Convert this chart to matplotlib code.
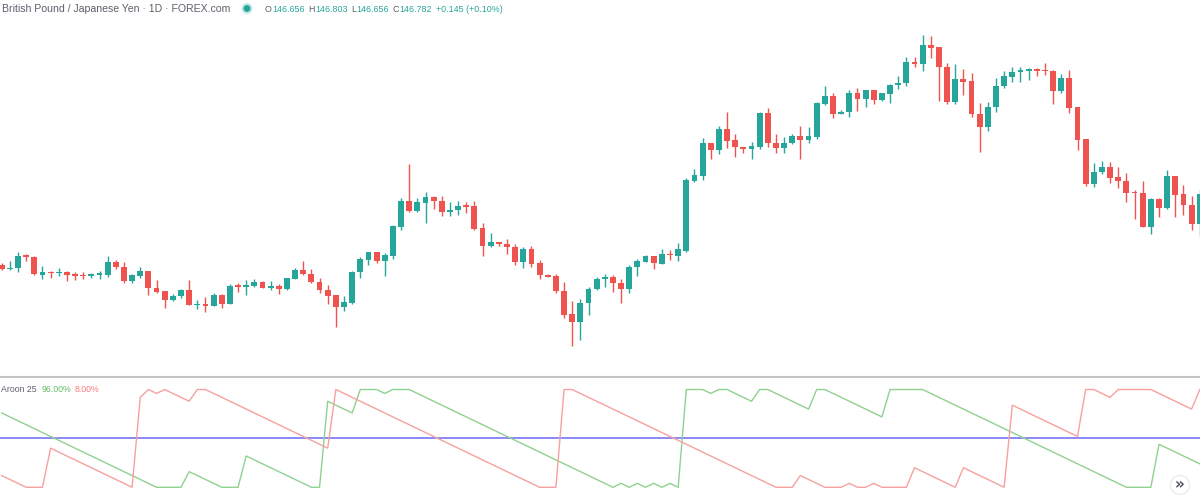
import matplotlib
import numpy as np

matplotlib.use("Agg")
import matplotlib.pyplot as plt
from matplotlib.patches import Circle

opens = [
    136.75, 136.55, 136.59, 137.25, 137.17, 136.27, 136.40, 136.35, 136.40, 136.29,
    136.25, 136.19, 136.24, 136.27, 136.89, 136.67, 135.95, 136.22, 136.47, 135.62,
    135.47, 134.99, 135.20, 135.50, 134.75, 134.82, 134.72, 135.25, 134.82, 135.73,
    135.67, 135.70, 135.92, 135.62, 135.72, 135.54, 136.07, 136.50, 136.32, 135.90,
    135.50, 135.25, 134.67, 134.84, 136.40, 137.00, 137.39, 136.95, 137.22, 138.64,
    139.97, 139.45, 139.87, 140.17, 139.95, 139.42, 139.49, 139.74, 139.70, 138.59,
    137.70, 137.92, 137.79, 137.67, 136.89, 137.54, 136.84, 136.25, 136.20, 135.47,
    134.30, 133.90, 134.87, 135.55, 136.04, 136.17, 135.84, 135.54, 136.65, 136.92,
    137.20, 136.82, 137.32, 137.22, 137.47, 140.97, 141.22, 142.84, 142.50, 143.54,
    143.00, 142.67, 142.57, 142.67, 144.34, 142.87, 142.59, 142.84, 143.20, 143.00,
    143.14, 144.80, 145.20, 144.30, 144.39, 145.37, 145.04, 145.50, 145.00, 145.32,
    145.74, 145.84, 146.92, 146.79, 147.75, 147.64, 146.67, 144.92, 146.04, 145.95,
    144.30, 143.67, 144.67, 145.70, 146.17, 146.39, 146.47, 146.54, 146.47, 146.47,
    145.47, 146.12, 144.64, 143.04, 140.79, 141.39, 141.67, 141.14, 140.97, 140.42,
    140.34, 138.67, 140.04, 139.62, 141.22, 140.29, 139.75, 138.80,
]
highs = [
    136.85, 136.95, 137.42, 137.30, 137.18, 136.70, 136.47, 136.59, 136.47, 136.39,
    136.39, 136.34, 136.47, 137.20, 137.00, 136.89, 136.30, 136.65, 136.47, 136.00,
    135.47, 135.30, 135.57, 136.00, 135.00, 135.17, 135.34, 135.30, 135.80, 135.87,
    136.00, 136.04, 135.97, 135.95, 135.79, 136.12, 136.59, 136.95, 136.54, 136.12,
    135.75, 135.25, 135.22, 136.47, 137.17, 137.42, 137.42, 137.34, 138.75, 140.12,
    141.80, 140.12, 140.39, 140.20, 140.20, 139.92, 139.97, 139.92, 139.95, 138.87,
    138.37, 137.92, 138.04, 137.80, 137.67, 137.70, 137.00, 136.28, 136.29, 135.92,
    134.95, 135.04, 135.67, 136.14, 136.30, 136.25, 136.04, 136.75, 137.04, 137.24,
    137.20, 137.54, 137.50, 137.84, 141.09, 141.54, 143.12, 142.84, 143.72, 144.39,
    143.30, 142.67, 142.92, 144.39, 144.62, 143.29, 143.17, 143.30, 143.70, 143.67,
    144.89, 145.72, 145.37, 144.50, 145.48, 145.62, 145.50, 145.50, 145.37, 145.79,
    146.22, 147.14, 147.14, 148.25, 148.20, 147.64, 146.87, 146.80, 146.54, 146.34,
    144.87, 144.92, 146.09, 146.45, 146.67, 146.64, 146.59, 146.59, 146.84, 146.50,
    146.30, 146.50, 144.64, 143.04, 141.84, 141.95, 141.92, 141.64, 141.34, 140.50,
    140.95, 140.09, 140.09, 141.50, 141.22, 140.75, 140.20, 140.50,
]
lows = [
    136.50, 136.50, 136.42, 136.95, 136.25, 136.04, 136.12, 136.22, 135.97, 136.00,
    136.04, 136.12, 136.07, 136.17, 136.55, 135.84, 135.84, 136.09, 135.25, 135.34,
    134.62, 134.95, 135.12, 134.75, 134.55, 134.42, 134.72, 134.62, 134.79, 135.42,
    135.25, 135.64, 135.59, 135.50, 135.30, 135.50, 136.04, 136.25, 135.84, 135.37,
    134.79, 133.67, 134.47, 134.80, 136.09, 136.75, 136.84, 136.22, 137.04, 138.50,
    139.40, 139.42, 138.84, 139.55, 139.22, 139.22, 139.25, 139.37, 138.50, 137.20,
    137.64, 137.70, 137.29, 136.75, 136.59, 136.67, 136.05, 136.13, 135.34, 134.09,
    132.70, 133.00, 134.25, 135.50, 135.67, 135.42, 134.87, 135.34, 136.20, 136.89,
    136.54, 136.79, 137.00, 136.97, 137.42, 140.92, 141.00, 142.04, 142.30, 142.59,
    142.14, 142.34, 142.04, 142.54, 142.67, 142.34, 142.37, 142.80, 142.04, 142.87,
    143.05, 144.75, 144.09, 144.28, 144.14, 144.47, 144.67, 144.80, 144.95, 144.87,
    145.54, 145.70, 146.67, 146.45, 147.09, 144.97, 144.80, 144.80, 145.25, 144.14,
    142.42, 143.47, 144.42, 145.59, 145.89, 145.89, 146.00, 146.22, 146.25, 144.79,
    145.34, 144.34, 142.50, 140.70, 140.67, 141.29, 140.87, 140.59, 139.92, 139.04,
    138.67, 138.30, 139.14, 139.54, 139.17, 139.25, 138.50, 138.20,
]
closes = [
    136.55, 136.59, 137.22, 137.15, 136.29, 136.40, 136.35, 136.40, 136.24, 136.22,
    136.19, 136.29, 136.34, 136.89, 136.67, 135.95, 136.25, 136.47, 135.59, 135.42,
    134.99, 135.22, 135.50, 134.75, 134.82, 134.72, 135.25, 134.82, 135.70, 135.67,
    135.75, 135.92, 135.62, 135.72, 135.55, 136.09, 136.50, 136.30, 135.89, 135.49,
    135.22, 134.67, 134.89, 136.42, 137.04, 137.39, 136.95, 137.25, 138.70, 139.97,
    139.44, 139.90, 140.17, 139.95, 139.42, 139.52, 139.72, 139.65, 138.55, 137.70,
    137.92, 137.79, 137.64, 136.89, 137.54, 136.82, 136.24, 136.15, 135.45, 134.27,
    133.90, 134.87, 135.57, 136.05, 136.17, 135.84, 135.54, 136.67, 136.95, 137.20,
    136.84, 137.32, 137.24, 137.54, 141.00, 141.25, 142.84, 142.50, 143.54, 142.97,
    142.64, 142.57, 142.69, 144.34, 142.84, 142.59, 142.87, 143.20, 143.00, 143.20,
    144.87, 145.20, 144.30, 144.42, 145.37, 145.04, 145.50, 145.00, 145.34, 145.75,
    145.85, 146.92, 146.79, 147.75, 147.62, 146.64, 144.92, 146.04, 145.92, 144.29,
    143.67, 144.67, 145.70, 146.20, 146.39, 146.50, 146.54, 146.45, 146.44, 145.47,
    146.12, 144.62, 143.00, 140.79, 141.42, 141.67, 141.12, 140.95, 140.37, 140.34,
    138.67, 140.04, 139.62, 141.22, 140.25, 139.75, 138.80, 140.29,
]

# Aroon 25 readings, percent per bar
aroon_up = [
    76, 72, 68, 64, 60, 56, 52, 48, 44, 40, 36, 32, 28, 24, 20, 16, 12, 8, 4, 0,
    0, 0, 0, 16, 12, 8, 4, 0, 0, 0, 32, 28, 24, 20, 16, 12, 8, 4, 0, 0,
    88, 84, 80, 76, 100, 100, 100, 96, 100, 100, 100,
    96, 92, 88, 84, 80, 76, 72, 68, 64, 60, 56, 52, 48, 44, 40, 36, 32, 28, 24, 20,
    16, 12, 8, 4, 0, 4, 0, 4, 0, 4, 0, 4, 0,
    100, 100, 100, 96, 100, 100, 96, 92, 88, 100, 100, 96, 92, 88, 84, 80, 100, 100,
    96, 92, 88, 84, 80, 76, 72, 100, 100, 100, 100, 100,
    96, 92, 88, 84, 80, 76, 72, 68, 64, 60, 56, 52, 48, 44, 40, 36, 32, 28, 24, 20,
    16, 12, 8, 4, 0, 0, 0, 0, 44, 40, 36, 32, 28, 24,
]
aroon_down = [
    12, 8, 4, 0, 0, 0, 40, 36, 32, 28, 24, 20, 16, 12, 8, 4, 0, 92, 100, 96,
    100, 96, 92, 88, 100, 100, 96, 92, 88, 84, 80, 76, 72, 68, 64, 60, 56, 52, 48, 44,
    40, 100, 96, 92, 88, 84, 80, 76, 72, 68, 64, 60, 56, 52, 48, 44, 40, 36, 32, 28,
    24, 20, 16, 12, 8, 4, 0, 0, 0, 100, 100,
    96, 92, 88, 84, 80, 76, 72, 68, 64, 60, 56, 52, 48, 44, 40, 36, 32, 28, 24, 20,
    16, 12, 8, 4, 0, 0, 0, 12, 8, 4, 0, 0, 0, 4, 0, 0, 4, 0, 0, 0, 0,
    20, 16, 12, 8, 4, 0, 20, 16, 12, 8, 4, 0,
    84, 80, 76, 72, 68, 64, 60, 56, 52, 100, 100, 96, 92, 100, 100, 100, 100, 100,
    96, 92, 88, 84, 80, 100,
]

UP = "#26a69a"
DOWN = "#ef5350"
W, H = 1200, 495
STEP = 8.15  # pixels per bar
X0 = 1.7     # pixel of first bar
FONT = "Liberation Sans"
GRAY = "#5d606b"


def fx(px):
    return px / W


def fy(py):
    return 1 - py / H


def text_row(fig, items, x, y, size):
    """Lay out (text, colour, gap) pieces one after another from pixel x."""
    renderer = fig.canvas.get_renderer()
    for label, color, gap in items:
        t = fig.text(fx(x), fy(y), label, fontsize=size, color=color,
                     family=FONT, va="center")
        x = t.get_window_extent(renderer).x1 + gap


fig = plt.figure(figsize=(12, 4.95), dpi=100)
ax = fig.add_axes([0, fy(376), 1, 376 / H])
ax_ar = fig.add_axes([0, 0, 1, 118 / H])

xlim = (-X0 / STEP, (W - X0) / STEP)

# candles
o = np.array(opens)
c = np.array(closes)
x = np.arange(len(o))
colors = np.where(c >= o, UP, DOWN)
ax.vlines(x, lows, highs, colors=colors, linewidth=1, zorder=1)
body = np.maximum(np.abs(c - o), 0.05)
ax.bar(x, body, bottom=np.minimum(o, c), width=0.72, color=colors,
       linewidth=0, zorder=2)
ax.set_xlim(*xlim)
ax.set_ylim(131.2, 150.0)
ax.axis("off")

# aroon pane
xa = np.arange(len(aroon_up))
ax_ar.axhline(50, color="#8080f6", linewidth=1.3, zorder=1)
ax_ar.plot(xa, aroon_up, color="#8fd18f", linewidth=1.0, zorder=2)
ax_ar.plot(xa, aroon_down, color="#f7a0a0", linewidth=1.0, zorder=2)
ax_ar.set_xlim(*xlim)
ax_ar.set_ylim(-7.9, 112.8)
ax_ar.set_xticks([])
ax_ar.set_yticks([])
for side in ("left", "right", "bottom"):
    ax_ar.spines[side].set_visible(False)
ax_ar.spines["top"].set_color("#c4c4c4")
ax_ar.spines["top"].set_linewidth(1.5)

# header legend
text_row(fig, [("British Pound / Japanese Yen · 1D · FOREX.com", GRAY, 0)],
         2, 9.5, 7.6)
fig.patches.append(Circle((247 / 100, (H - 8.5) / 100), 0.045,
                          transform=fig.dpi_scale_trans, facecolor=UP,
                          edgecolor="#c4e8e4", linewidth=1.5))
text_row(fig, [
    ("O", GRAY, 0.5), ("146.656", UP, 3.5),
    ("H", GRAY, 0.5), ("146.803", UP, 3.5),
    ("L", GRAY, 0.5), ("146.656", UP, 3.5),
    ("C", GRAY, 0.5), ("146.782", UP, 3.5),
    ("+0.145 (+0.10%)", UP, 0),
], 265, 9.5, 6.4)

# aroon legend
text_row(fig, [("Aroon 25", GRAY, 5), ("96.00%", "#66bb6a", 3.5),
               ("8.00%", "#f77c7c", 0)], 1, 389, 6.3)

# scroll button
fig.patches.append(Circle((1180 / 100, (H - 485) / 100), 0.095,
                          transform=fig.dpi_scale_trans, facecolor="white",
                          edgecolor="#ececec", linewidth=1.0, zorder=5))
fig.text(fx(1180), fy(485), "»", fontsize=11, color="#50535e", ha="center",
         va="center", zorder=6, fontweight="bold")

fig.savefig("out.png", dpi=100)
plt.close(fig)
